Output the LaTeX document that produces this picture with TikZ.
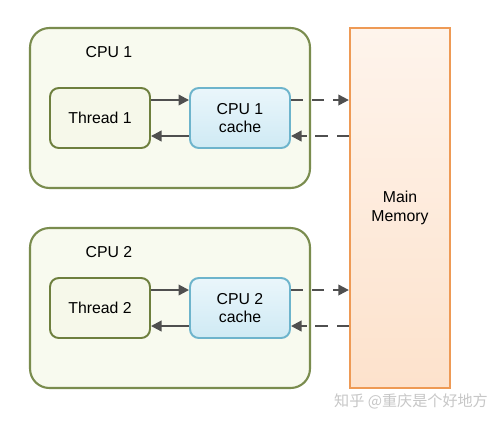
\documentclass[tikz,border=0pt]{standalone}
\usepackage{fontspec}
\setmainfont{Liberation Sans}
\newfontfamily\cjk{Noto Sans CJK SC}
\usetikzlibrary{arrows.meta}
\definecolor{cpuborder}{HTML}{7A8C4E}
\definecolor{cpufill}{HTML}{F8FAEF}
\definecolor{thrfill}{HTML}{F6F8EA}
\definecolor{thrborder}{HTML}{6E7F3E}
\definecolor{cachetop}{HTML}{EAF6FB}
\definecolor{cachebot}{HTML}{CFEAF4}
\definecolor{cacheborder}{HTML}{6DB4CC}
\definecolor{memtop}{HTML}{FEF4EC}
\definecolor{membot}{HTML}{FDE2CC}
\definecolor{memborder}{HTML}{EE9A55}
\definecolor{arrowc}{HTML}{4F4F4F}
\tikzset{
  cpubox/.style={draw=cpuborder, line width=1.2pt, fill=cpufill, rounded corners=11pt, minimum width=5.6cm, minimum height=3.2cm},
  thrbox/.style={draw=thrborder, line width=1.1pt, fill=thrfill, rounded corners=5pt, minimum width=2cm, minimum height=1.2cm, font=\fontsize{9}{10.4}\selectfont, align=center},
  cachebox/.style={draw=cacheborder, line width=1.1pt, top color=cachetop, bottom color=cachebot, rounded corners=5pt, minimum width=2cm, minimum height=1.2cm, font=\fontsize{9}{10.4}\selectfont, align=center},
  membox/.style={draw=memborder, line width=1.3pt, top color=memtop, bottom color=membot, minimum width=2cm, minimum height=7.2cm, font=\fontsize{9}{10.4}\selectfont, align=center},
  lbl/.style={font=\fontsize{9}{10.4}\selectfont},
  arr/.style={draw=arrowc, line width=1.2pt, -{Triangle[length=6pt,width=6pt]}},
  darr/.style={arr, dash pattern=on 7pt off 5pt},
}
\begin{document}
\begin{tikzpicture}[x=0.02cm,y=-0.02cm]
\useasboundingbox (0,0) rectangle (502,423);
\fill[white] (0,0) rectangle (502,423);
% CPU 1
\node[cpubox] (cpu1) at (170,108) {};
\node[lbl] (cpu1l) at (109,52) {CPU 1};
\node[thrbox] (t1) at (100,118) {Thread 1};
\node[cachebox] (c1) at (240,118) {CPU 1\\cache};
% CPU 2
\node[cpubox] (cpu2) at (170,308) {};
\node[lbl] (cpu2l) at (109,252) {CPU 2};
\node[thrbox] (t2) at (100,308) {Thread 2};
\node[cachebox] (c2) at (240,308) {CPU 2\\cache};
% Memory
\node[membox] (mem) at (400,208) {Main\\Memory};
% anchor points
\coordinate (t1a) at ([yshift=0.36cm]t1.east);
\coordinate (t1b) at ([yshift=-0.36cm]t1.east);
\coordinate (c1a) at ([yshift=0.36cm]c1.west);
\coordinate (c1b) at ([yshift=-0.36cm]c1.west);
\coordinate (c1c) at ([yshift=0.36cm]c1.east);
\coordinate (c1d) at ([yshift=-0.36cm]c1.east);
\coordinate (m1a) at (mem.west |- c1c);
\coordinate (m1b) at (mem.west |- c1d);
\coordinate (t2a) at ([yshift=0.36cm]t2.east);
\coordinate (t2b) at ([yshift=-0.36cm]t2.east);
\coordinate (c2a) at ([yshift=0.36cm]c2.west);
\coordinate (c2b) at ([yshift=-0.36cm]c2.west);
\coordinate (c2c) at ([yshift=0.36cm]c2.east);
\coordinate (c2d) at ([yshift=-0.36cm]c2.east);
\coordinate (m2a) at (mem.west |- c2c);
\coordinate (m2b) at (mem.west |- c2d);
% arrows
\draw[arr] (t1a) -- (c1a);
\draw[arr] (c1b) -- (t1b);
\draw[darr] (c1c) -- (m1a);
\draw[darr] (m1b) -- (c1d);
\draw[arr] (t2a) -- (c2a);
\draw[arr] (c2b) -- (t2b);
\draw[darr] (c2c) -- (m2a);
\draw[darr] (m2b) -- (c2d);
% watermark
\node[font=\cjk\fontsize{8.6}{10}\selectfont, text=black!22, inner sep=0pt] (wm) at (411,401) {知乎 @重庆是个好地方};
\end{tikzpicture}
\end{document}
